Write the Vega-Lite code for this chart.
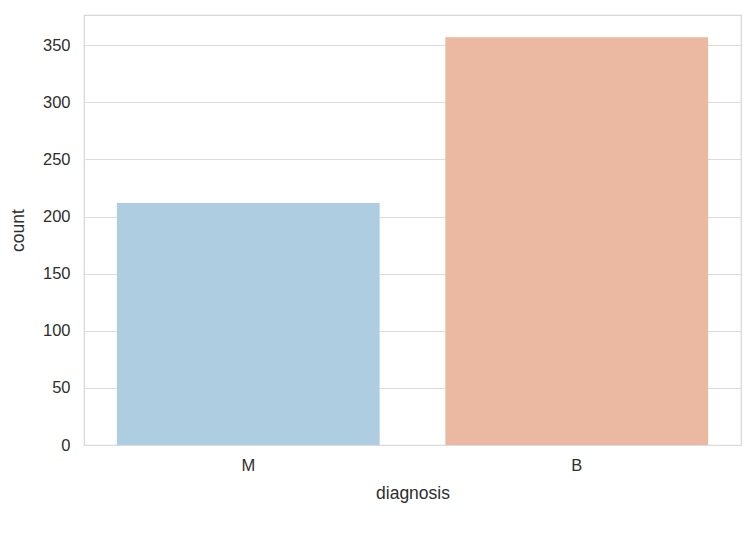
{
  "$schema": "https://vega.github.io/schema/vega-lite/v6.json",
  "autosize": "none",
  "width": 657,
  "height": 430,
  "padding": {"left": 84, "top": 15, "right": 15, "bottom": 106},
  "background": "white",
  "config": {
    "font": "Liberation Sans",
    "view": {"stroke": "#d6d6d6", "strokeWidth": 1.2},
    "axis": {"domain": false, "ticks": false, "gridColor": "#dcdcdc", "gridWidth": 1.2, "labelColor": "#2e2e2e", "titleColor": "#2e2e2e", "labelFontSize": 16.5, "titleFontSize": 17.5, "titleFontWeight": "normal"}
  },
  "data": {"values": [{"diagnosis": "M", "count": 212}, {"diagnosis": "B", "count": 357}]},
  "mark": {"type": "bar"},
  "encoding": {
    "x": {"field": "diagnosis", "type": "nominal", "sort": ["M", "B"], "scale": {"paddingInner": 0.2, "paddingOuter": 0.1}, "axis": {"labelAngle": 0, "grid": false, "labelPadding": 12, "titlePadding": 11}},
    "y": {"field": "count", "type": "quantitative", "scale": {"domain": [0, 376.5], "nice": false}, "axis": {"values": [0, 50, 100, 150, 200, 250, 300, 350], "labelPadding": 14, "titlePadding": 15}},
    "color": {"field": "diagnosis", "type": "nominal", "scale": {"domain": ["M", "B"], "range": ["#aecde1", "#ebb9a2"]}, "legend": null}
  }
}
